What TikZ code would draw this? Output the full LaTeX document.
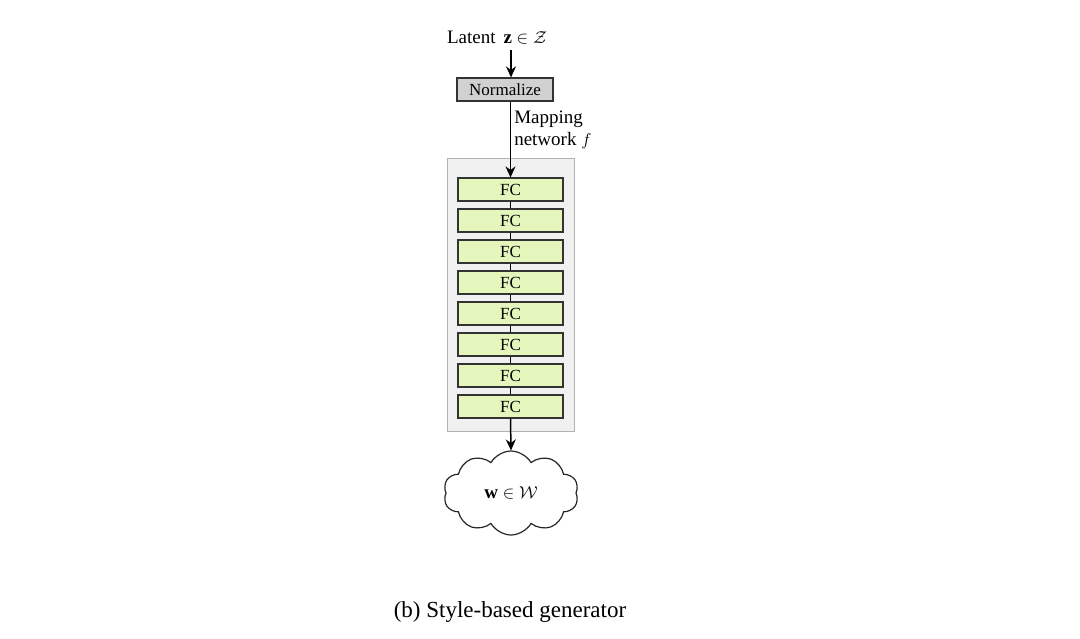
\documentclass[tikz,border=0pt]{standalone}
\usepackage{fontspec}
\usepackage{amsmath,amssymb}
\setmainfont{Liberation Serif}
\usetikzlibrary{shapes.symbols,arrows.meta}
\definecolor{fcgreen}{RGB}{228,246,188}
\begin{document}
\begin{tikzpicture}[x=1pt,y=-1pt,
  every node/.style={font=\fontsize{19}{22}\selectfont},
  box/.style={draw=black!80,line width=1.2pt,minimum width=105pt,minimum height=23pt,inner sep=0pt,font=\fontsize{17}{20}\selectfont},
  fc/.style={box,fill=fcgreen},
  arr/.style={line width=1.5pt,-{Stealth[length=11pt,width=10pt]}},
  ln/.style={line width=1.3pt}]
\useasboundingbox (0,0) rectangle (1080,638);
\node[anchor=center] (lat) at (497,38) {Latent \,$\mathbf{z}\in\mathcal{Z}$};
\node[box,fill=black!18,minimum width=96pt] (norm) at (505,89.5) {Normalize};
\node[draw=black!30,line width=1pt,fill=black!6,minimum width=127pt,minimum height=273pt,inner sep=0pt] (panel) at (510.5,294.5) {};
\foreach \i in {1,...,8}{
  \node[fc] (fc\i) at (510.5,{189.5+31*(\i-1)}) {FC};
}
\foreach \i [evaluate=\i as \j using int(\i+1)] in {1,...,7}{
  \draw[ln] (fc\i.south) -- (fc\j.north);
}
\node[cloud,draw=black!85,line width=1.2pt,cloud puffs=10,cloud puff arc=120,aspect=1.7,minimum width=135pt,minimum height=84pt,inner sep=0pt] (w) at (511,493) {$\mathbf{w}\in\mathcal{W}$};
\coordinate (la) at (511,50);
\draw[arr] (la) -- (511,|-norm.north);
\draw[arr] (norm.south-|fc1.north) -- (fc1.north) node[pos=0.3,anchor=north west,align=left,inner sep=2pt,xshift=1pt,yshift=16pt] {Mapping\\network $f$};
\draw[arr] (fc8.south) -- (w.north);
\node[font=\fontsize{23}{26}\selectfont] (cap) at (510,612) {(b) Style-based generator};
\end{tikzpicture}
\end{document}
